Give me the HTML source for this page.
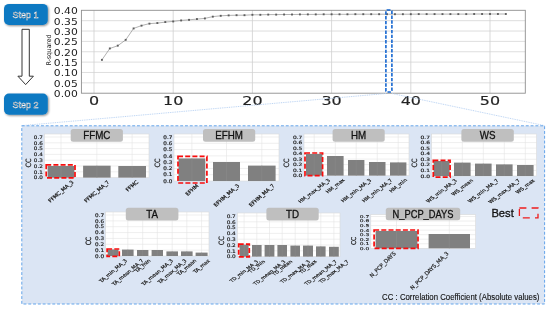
<!DOCTYPE html>
<html><head><meta charset="utf-8"><title>Feature selection steps</title>
<style>
html,body{margin:0;padding:0;background:#fff;}
body{width:550px;height:309px;overflow:hidden;}
svg{display:block;}
.dj{font-family:"DejaVu Sans","Liberation Sans",sans-serif;fill:#222;}
.lb{font-family:"Liberation Sans","DejaVu Sans",sans-serif;fill:#111;}
</style></head><body>
<svg width="550" height="309" viewBox="0 0 550 309">
<rect width="550" height="309" fill="#fff"/>
<rect x="81.4" y="10.3" width="443.9" height="82.9" fill="#fff"/>
<line x1="81.4" x2="525.3" y1="82.84" y2="82.84" stroke="#d6d6d6" stroke-width="0.8"/>
<line x1="81.4" x2="525.3" y1="72.48" y2="72.48" stroke="#d6d6d6" stroke-width="0.8"/>
<line x1="81.4" x2="525.3" y1="62.12" y2="62.12" stroke="#d6d6d6" stroke-width="0.8"/>
<line x1="81.4" x2="525.3" y1="51.76" y2="51.76" stroke="#d6d6d6" stroke-width="0.8"/>
<line x1="81.4" x2="525.3" y1="41.40" y2="41.40" stroke="#d6d6d6" stroke-width="0.8"/>
<line x1="81.4" x2="525.3" y1="31.04" y2="31.04" stroke="#d6d6d6" stroke-width="0.8"/>
<line x1="81.4" x2="525.3" y1="20.68" y2="20.68" stroke="#d6d6d6" stroke-width="0.8"/>
<line x1="94.00" x2="94.00" y1="10.3" y2="93.2" stroke="#cfcfcf" stroke-width="0.8"/>
<line x1="173.20" x2="173.20" y1="10.3" y2="93.2" stroke="#cfcfcf" stroke-width="0.8"/>
<line x1="252.40" x2="252.40" y1="10.3" y2="93.2" stroke="#cfcfcf" stroke-width="0.8"/>
<line x1="331.60" x2="331.60" y1="10.3" y2="93.2" stroke="#cfcfcf" stroke-width="0.8"/>
<line x1="410.80" x2="410.80" y1="10.3" y2="93.2" stroke="#cfcfcf" stroke-width="0.8"/>
<line x1="490.00" x2="490.00" y1="10.3" y2="93.2" stroke="#cfcfcf" stroke-width="0.8"/>
<rect x="81.4" y="10.3" width="443.9" height="82.9" fill="none" stroke="#8e8e8e" stroke-width="0.9"/>
<polyline fill="none" stroke="#7d7d7d" stroke-width="0.6" points="101.9,59.9 109.8,48.5 117.8,45.7 125.7,39.9 133.6,28.4 141.5,25.6 149.4,23.6 157.4,23.1 165.3,22.1 173.2,21.4 181.1,20.4 189.0,19.8 197.0,19.1 204.9,18.4 212.8,16.6 220.7,15.8 228.6,15.4 236.6,15.2 244.5,15.2 252.4,14.8 260.3,14.8 268.2,14.6 276.2,14.6 284.1,14.5 292.0,14.5 299.9,14.4 307.8,14.4 315.8,14.4 323.7,14.3 331.6,14.3 339.5,14.3 347.4,14.3 355.4,14.2 363.3,14.2 371.2,14.2 379.1,14.2 387.0,14.2 395.0,14.2 402.9,14.2 410.8,14.2 418.7,14.1 426.6,14.1 434.6,14.1 442.5,14.1 450.4,14.1 458.3,14.1 466.2,14.1 474.2,14.0 482.1,14.0 490.0,14.0 497.9,14.0 505.8,14.0"/>
<rect x="100.97" y="58.90" width="1.9" height="1.9" fill="#5e5e5e"/>
<rect x="108.89" y="47.50" width="1.9" height="1.9" fill="#5e5e5e"/>
<rect x="116.81" y="44.70" width="1.9" height="1.9" fill="#5e5e5e"/>
<rect x="124.73" y="38.90" width="1.9" height="1.9" fill="#5e5e5e"/>
<rect x="132.65" y="27.50" width="1.9" height="1.9" fill="#5e5e5e"/>
<rect x="140.57" y="24.70" width="1.9" height="1.9" fill="#5e5e5e"/>
<rect x="148.49" y="22.70" width="1.9" height="1.9" fill="#5e5e5e"/>
<rect x="156.41" y="22.10" width="1.9" height="1.9" fill="#5e5e5e"/>
<rect x="164.33" y="21.10" width="1.9" height="1.9" fill="#5e5e5e"/>
<rect x="172.25" y="20.50" width="1.9" height="1.9" fill="#5e5e5e"/>
<rect x="180.17" y="19.50" width="1.9" height="1.9" fill="#5e5e5e"/>
<rect x="188.09" y="18.90" width="1.9" height="1.9" fill="#5e5e5e"/>
<rect x="196.01" y="18.10" width="1.9" height="1.9" fill="#5e5e5e"/>
<rect x="203.93" y="17.50" width="1.9" height="1.9" fill="#5e5e5e"/>
<rect x="211.85" y="15.70" width="1.9" height="1.9" fill="#5e5e5e"/>
<rect x="219.77" y="14.85" width="1.9" height="1.9" fill="#5e5e5e"/>
<rect x="227.69" y="14.45" width="1.9" height="1.9" fill="#5e5e5e"/>
<rect x="235.61" y="14.25" width="1.9" height="1.9" fill="#5e5e5e"/>
<rect x="243.53" y="14.25" width="1.9" height="1.9" fill="#5e5e5e"/>
<rect x="251.45" y="13.85" width="1.9" height="1.9" fill="#5e5e5e"/>
<rect x="259.37" y="13.85" width="1.9" height="1.9" fill="#5e5e5e"/>
<rect x="267.29" y="13.65" width="1.9" height="1.9" fill="#5e5e5e"/>
<rect x="275.21" y="13.65" width="1.9" height="1.9" fill="#5e5e5e"/>
<rect x="283.13" y="13.55" width="1.9" height="1.9" fill="#5e5e5e"/>
<rect x="291.05" y="13.55" width="1.9" height="1.9" fill="#5e5e5e"/>
<rect x="298.97" y="13.45" width="1.9" height="1.9" fill="#5e5e5e"/>
<rect x="306.89" y="13.45" width="1.9" height="1.9" fill="#5e5e5e"/>
<rect x="314.81" y="13.45" width="1.9" height="1.9" fill="#5e5e5e"/>
<rect x="322.73" y="13.35" width="1.9" height="1.9" fill="#5e5e5e"/>
<rect x="330.65" y="13.35" width="1.9" height="1.9" fill="#5e5e5e"/>
<rect x="338.57" y="13.35" width="1.9" height="1.9" fill="#5e5e5e"/>
<rect x="346.49" y="13.35" width="1.9" height="1.9" fill="#5e5e5e"/>
<rect x="354.41" y="13.25" width="1.9" height="1.9" fill="#5e5e5e"/>
<rect x="362.33" y="13.25" width="1.9" height="1.9" fill="#5e5e5e"/>
<rect x="370.25" y="13.25" width="1.9" height="1.9" fill="#5e5e5e"/>
<rect x="378.17" y="13.25" width="1.9" height="1.9" fill="#5e5e5e"/>
<rect x="386.09" y="13.25" width="1.9" height="1.9" fill="#5e5e5e"/>
<rect x="394.01" y="13.25" width="1.9" height="1.9" fill="#5e5e5e"/>
<rect x="401.93" y="13.25" width="1.9" height="1.9" fill="#5e5e5e"/>
<rect x="409.85" y="13.25" width="1.9" height="1.9" fill="#5e5e5e"/>
<rect x="417.77" y="13.15" width="1.9" height="1.9" fill="#5e5e5e"/>
<rect x="425.69" y="13.15" width="1.9" height="1.9" fill="#5e5e5e"/>
<rect x="433.61" y="13.15" width="1.9" height="1.9" fill="#5e5e5e"/>
<rect x="441.53" y="13.15" width="1.9" height="1.9" fill="#5e5e5e"/>
<rect x="449.45" y="13.15" width="1.9" height="1.9" fill="#5e5e5e"/>
<rect x="457.37" y="13.15" width="1.9" height="1.9" fill="#5e5e5e"/>
<rect x="465.29" y="13.15" width="1.9" height="1.9" fill="#5e5e5e"/>
<rect x="473.21" y="13.05" width="1.9" height="1.9" fill="#5e5e5e"/>
<rect x="481.13" y="13.05" width="1.9" height="1.9" fill="#5e5e5e"/>
<rect x="489.05" y="13.05" width="1.9" height="1.9" fill="#5e5e5e"/>
<rect x="496.97" y="13.05" width="1.9" height="1.9" fill="#5e5e5e"/>
<rect x="504.89" y="13.05" width="1.9" height="1.9" fill="#5e5e5e"/>
<text transform="translate(77.8,97.10) scale(1.27,1)" text-anchor="end" class="dj" font-size="8.5">0.00</text>
<text transform="translate(77.8,86.74) scale(1.27,1)" text-anchor="end" class="dj" font-size="8.5">0.05</text>
<text transform="translate(77.8,76.38) scale(1.27,1)" text-anchor="end" class="dj" font-size="8.5">0.10</text>
<text transform="translate(77.8,66.02) scale(1.27,1)" text-anchor="end" class="dj" font-size="8.5">0.15</text>
<text transform="translate(77.8,55.66) scale(1.27,1)" text-anchor="end" class="dj" font-size="8.5">0.20</text>
<text transform="translate(77.8,45.30) scale(1.27,1)" text-anchor="end" class="dj" font-size="8.5">0.25</text>
<text transform="translate(77.8,34.94) scale(1.27,1)" text-anchor="end" class="dj" font-size="8.5">0.30</text>
<text transform="translate(77.8,24.58) scale(1.27,1)" text-anchor="end" class="dj" font-size="8.5">0.35</text>
<text transform="translate(77.8,14.22) scale(1.27,1)" text-anchor="end" class="dj" font-size="8.5">0.40</text>
<text transform="translate(94.0,105.1) scale(1.4,1)" text-anchor="middle" class="dj" font-size="11.4" stroke="#222" stroke-width="0.15">0</text>
<text transform="translate(173.2,105.1) scale(1.4,1)" text-anchor="middle" class="dj" font-size="11.4" stroke="#222" stroke-width="0.15">10</text>
<text transform="translate(252.4,105.1) scale(1.4,1)" text-anchor="middle" class="dj" font-size="11.4" stroke="#222" stroke-width="0.15">20</text>
<text transform="translate(331.6,105.1) scale(1.4,1)" text-anchor="middle" class="dj" font-size="11.4" stroke="#222" stroke-width="0.15">30</text>
<text transform="translate(410.8,105.1) scale(1.4,1)" text-anchor="middle" class="dj" font-size="11.4" stroke="#222" stroke-width="0.15">40</text>
<text transform="translate(490.0,105.1) scale(1.4,1)" text-anchor="middle" class="dj" font-size="11.4" stroke="#222" stroke-width="0.15">50</text>
<text transform="translate(50.6,50) scale(1.1,1) rotate(-90)" text-anchor="middle" class="dj" font-size="6.05">R-squared</text>
<rect x="385.9" y="10" width="6.0" height="82" rx="1.2" fill="none" stroke="#1466d0" stroke-width="1.6" stroke-dasharray="3.4,1.4"/>
<line x1="386" y1="93.5" x2="22" y2="125.6" stroke="#b4cff2" stroke-width="0.9" stroke-dasharray="1,0.8"/>
<line x1="392" y1="93.5" x2="544.5" y2="125.6" stroke="#b4cff2" stroke-width="0.9" stroke-dasharray="1,0.8"/>
<rect x="21.8" y="125.8" width="522.8" height="178.2" fill="#dbe5f4" stroke="#559ce9" stroke-width="0.9" stroke-dasharray="2.9,1.9"/>
<rect x="44.4" y="134" width="104.6" height="43.6" fill="#fff"/>
<line x1="44.4" x2="149" y1="171.80" y2="171.80" stroke="#e4e4e4" stroke-width="0.6"/>
<line x1="44.4" x2="149" y1="166.00" y2="166.00" stroke="#e4e4e4" stroke-width="0.6"/>
<line x1="44.4" x2="149" y1="160.20" y2="160.20" stroke="#e4e4e4" stroke-width="0.6"/>
<line x1="44.4" x2="149" y1="154.40" y2="154.40" stroke="#e4e4e4" stroke-width="0.6"/>
<line x1="44.4" x2="149" y1="148.60" y2="148.60" stroke="#e4e4e4" stroke-width="0.6"/>
<line x1="44.4" x2="149" y1="142.80" y2="142.80" stroke="#e4e4e4" stroke-width="0.6"/>
<line x1="44.4" x2="149" y1="137.00" y2="137.00" stroke="#e4e4e4" stroke-width="0.6"/>
<line x1="61.00" x2="61.00" y1="134" y2="177.6" stroke="#e4e4e4" stroke-width="0.6"/>
<line x1="96.85" x2="96.85" y1="134" y2="177.6" stroke="#e4e4e4" stroke-width="0.6"/>
<line x1="132.15" x2="132.15" y1="134" y2="177.6" stroke="#e4e4e4" stroke-width="0.6"/>
<rect x="44.4" y="134" width="104.6" height="43.6" fill="none" stroke="#d9d9d9" stroke-width="0.6"/>
<rect x="47.6" y="166" width="26.8" height="11.6" fill="#808080"/>
<line x1="61.00" x2="61.00" y1="166" y2="177.6" stroke="#8a8a8a" stroke-width="0.6"/>
<rect x="83.1" y="165.7" width="27.5" height="11.9" fill="#808080"/>
<line x1="96.85" x2="96.85" y1="165.7" y2="177.6" stroke="#8a8a8a" stroke-width="0.6"/>
<rect x="118.3" y="166" width="27.7" height="11.6" fill="#808080"/>
<line x1="132.15" x2="132.15" y1="166" y2="177.6" stroke="#8a8a8a" stroke-width="0.6"/>
<text transform="translate(42.8,179.33) scale(1.18,1)" text-anchor="end" class="dj" font-size="4.8" stroke="#222" stroke-width="0.17">0.0</text>
<text transform="translate(42.8,173.53) scale(1.18,1)" text-anchor="end" class="dj" font-size="4.8" stroke="#222" stroke-width="0.17">0.1</text>
<text transform="translate(42.8,167.73) scale(1.18,1)" text-anchor="end" class="dj" font-size="4.8" stroke="#222" stroke-width="0.17">0.2</text>
<text transform="translate(42.8,161.93) scale(1.18,1)" text-anchor="end" class="dj" font-size="4.8" stroke="#222" stroke-width="0.17">0.3</text>
<text transform="translate(42.8,156.13) scale(1.18,1)" text-anchor="end" class="dj" font-size="4.8" stroke="#222" stroke-width="0.17">0.4</text>
<text transform="translate(42.8,150.33) scale(1.18,1)" text-anchor="end" class="dj" font-size="4.8" stroke="#222" stroke-width="0.17">0.5</text>
<text transform="translate(42.8,144.53) scale(1.18,1)" text-anchor="end" class="dj" font-size="4.8" stroke="#222" stroke-width="0.17">0.6</text>
<text transform="translate(42.8,138.73) scale(1.18,1)" text-anchor="end" class="dj" font-size="4.8" stroke="#222" stroke-width="0.17">0.7</text>
<text transform="translate(28.2,163) scale(1.14,1) rotate(-90)" text-anchor="middle" class="dj" font-size="6.4" dy="2.30" stroke="#222" stroke-width="0.2">CC</text>
<text transform="translate(61.00,191.52) scale(1.15,1) rotate(-45)" text-anchor="middle" class="dj" font-size="4.9" dy="1.62" stroke="#222" stroke-width="0.2">FFMC_MA_3</text>
<text transform="translate(96.85,191.52) scale(1.15,1) rotate(-45)" text-anchor="middle" class="dj" font-size="4.9" dy="1.62" stroke="#222" stroke-width="0.2">FFMC_MA_7</text>
<text transform="translate(132.15,186.01) scale(1.15,1) rotate(-45)" text-anchor="middle" class="dj" font-size="4.9" dy="1.62" stroke="#222" stroke-width="0.2">FFMC</text>
<rect x="46.2" y="164.9" width="28.8" height="13.0" fill="none" stroke="#f80c0c" stroke-width="1.7" stroke-dasharray="5,2.2"/>
<rect x="70.7" y="129" width="52.2" height="12.8" rx="2.5" fill="#bfbfbf"/>
<text transform="translate(96.8,139.2) scale(0.96,1)" text-anchor="middle" class="lb" font-size="10.2" stroke="#111" stroke-width="0.28">FFMC</text>
<rect x="174" y="134" width="105.0" height="47.0" fill="#fff"/>
<line x1="174" x2="279" y1="174.71" y2="174.71" stroke="#e4e4e4" stroke-width="0.6"/>
<line x1="174" x2="279" y1="168.43" y2="168.43" stroke="#e4e4e4" stroke-width="0.6"/>
<line x1="174" x2="279" y1="162.14" y2="162.14" stroke="#e4e4e4" stroke-width="0.6"/>
<line x1="174" x2="279" y1="155.86" y2="155.86" stroke="#e4e4e4" stroke-width="0.6"/>
<line x1="174" x2="279" y1="149.57" y2="149.57" stroke="#e4e4e4" stroke-width="0.6"/>
<line x1="174" x2="279" y1="143.29" y2="143.29" stroke="#e4e4e4" stroke-width="0.6"/>
<line x1="174" x2="279" y1="137.00" y2="137.00" stroke="#e4e4e4" stroke-width="0.6"/>
<line x1="191.90" x2="191.90" y1="134" y2="181" stroke="#e4e4e4" stroke-width="0.6"/>
<line x1="226.50" x2="226.50" y1="134" y2="181" stroke="#e4e4e4" stroke-width="0.6"/>
<line x1="261.80" x2="261.80" y1="134" y2="181" stroke="#e4e4e4" stroke-width="0.6"/>
<rect x="174" y="134" width="105.0" height="47.0" fill="none" stroke="#d9d9d9" stroke-width="0.6"/>
<rect x="178.5" y="158.4" width="26.8" height="22.6" fill="#808080"/>
<line x1="191.90" x2="191.90" y1="158.4" y2="181" stroke="#8a8a8a" stroke-width="0.6"/>
<rect x="213" y="162" width="27.0" height="19.0" fill="#808080"/>
<line x1="226.50" x2="226.50" y1="162" y2="181" stroke="#8a8a8a" stroke-width="0.6"/>
<rect x="248" y="165.6" width="27.6" height="15.4" fill="#808080"/>
<line x1="261.80" x2="261.80" y1="165.6" y2="181" stroke="#8a8a8a" stroke-width="0.6"/>
<text transform="translate(172.4,182.76) scale(1.16,1)" text-anchor="end" class="dj" font-size="4.9" stroke="#222" stroke-width="0.18">0.0</text>
<text transform="translate(172.4,176.48) scale(1.16,1)" text-anchor="end" class="dj" font-size="4.9" stroke="#222" stroke-width="0.18">0.1</text>
<text transform="translate(172.4,170.19) scale(1.16,1)" text-anchor="end" class="dj" font-size="4.9" stroke="#222" stroke-width="0.18">0.2</text>
<text transform="translate(172.4,163.91) scale(1.16,1)" text-anchor="end" class="dj" font-size="4.9" stroke="#222" stroke-width="0.18">0.3</text>
<text transform="translate(172.4,157.62) scale(1.16,1)" text-anchor="end" class="dj" font-size="4.9" stroke="#222" stroke-width="0.18">0.4</text>
<text transform="translate(172.4,151.34) scale(1.16,1)" text-anchor="end" class="dj" font-size="4.9" stroke="#222" stroke-width="0.18">0.5</text>
<text transform="translate(172.4,145.05) scale(1.16,1)" text-anchor="end" class="dj" font-size="4.9" stroke="#222" stroke-width="0.18">0.6</text>
<text transform="translate(172.4,138.76) scale(1.16,1)" text-anchor="end" class="dj" font-size="4.9" stroke="#222" stroke-width="0.18">0.7</text>
<text transform="translate(157.2,163) scale(1.14,1) rotate(-90)" text-anchor="middle" class="dj" font-size="6.4" dy="2.30" stroke="#222" stroke-width="0.2">CC</text>
<text transform="translate(191.90,189.90) scale(1.14,1) rotate(-45)" text-anchor="middle" class="dj" font-size="4.9" dy="1.62" stroke="#222" stroke-width="0.2">EFHM</text>
<text transform="translate(226.50,195.41) scale(1.14,1) rotate(-45)" text-anchor="middle" class="dj" font-size="4.9" dy="1.62" stroke="#222" stroke-width="0.2">EFHM_MA_3</text>
<text transform="translate(261.80,195.41) scale(1.14,1) rotate(-45)" text-anchor="middle" class="dj" font-size="4.9" dy="1.62" stroke="#222" stroke-width="0.2">EFHM_MA_7</text>
<rect x="178.0" y="156.4" width="28.9" height="26.6" fill="none" stroke="#f80c0c" stroke-width="1.7" stroke-dasharray="5,2.2"/>
<rect x="203" y="129" width="52.2" height="12.8" rx="2.5" fill="#bfbfbf"/>
<text transform="translate(229.1,139.2) scale(0.96,1)" text-anchor="middle" class="lb" font-size="10.2" stroke="#111" stroke-width="0.28">EFHM</text>
<rect x="304" y="134" width="105.0" height="41.6" fill="#fff"/>
<line x1="304" x2="409" y1="170.09" y2="170.09" stroke="#e4e4e4" stroke-width="0.6"/>
<line x1="304" x2="409" y1="164.57" y2="164.57" stroke="#e4e4e4" stroke-width="0.6"/>
<line x1="304" x2="409" y1="159.06" y2="159.06" stroke="#e4e4e4" stroke-width="0.6"/>
<line x1="304" x2="409" y1="153.54" y2="153.54" stroke="#e4e4e4" stroke-width="0.6"/>
<line x1="304" x2="409" y1="148.03" y2="148.03" stroke="#e4e4e4" stroke-width="0.6"/>
<line x1="304" x2="409" y1="142.51" y2="142.51" stroke="#e4e4e4" stroke-width="0.6"/>
<line x1="304" x2="409" y1="137.00" y2="137.00" stroke="#e4e4e4" stroke-width="0.6"/>
<line x1="314.20" x2="314.20" y1="134" y2="175.6" stroke="#e4e4e4" stroke-width="0.6"/>
<line x1="335.30" x2="335.30" y1="134" y2="175.6" stroke="#e4e4e4" stroke-width="0.6"/>
<line x1="356.20" x2="356.20" y1="134" y2="175.6" stroke="#e4e4e4" stroke-width="0.6"/>
<line x1="377.25" x2="377.25" y1="134" y2="175.6" stroke="#e4e4e4" stroke-width="0.6"/>
<line x1="398.20" x2="398.20" y1="134" y2="175.6" stroke="#e4e4e4" stroke-width="0.6"/>
<rect x="304" y="134" width="105.0" height="41.6" fill="none" stroke="#d9d9d9" stroke-width="0.6"/>
<rect x="306" y="154" width="16.4" height="21.6" fill="#808080"/>
<line x1="314.20" x2="314.20" y1="154" y2="175.6" stroke="#8a8a8a" stroke-width="0.6"/>
<rect x="327" y="156" width="16.6" height="19.6" fill="#808080"/>
<line x1="335.30" x2="335.30" y1="156" y2="175.6" stroke="#8a8a8a" stroke-width="0.6"/>
<rect x="348" y="160" width="16.4" height="15.6" fill="#808080"/>
<line x1="356.20" x2="356.20" y1="160" y2="175.6" stroke="#8a8a8a" stroke-width="0.6"/>
<rect x="369" y="162" width="16.5" height="13.6" fill="#808080"/>
<line x1="377.25" x2="377.25" y1="162" y2="175.6" stroke="#8a8a8a" stroke-width="0.6"/>
<rect x="390" y="162.4" width="16.4" height="13.2" fill="#808080"/>
<line x1="398.20" x2="398.20" y1="162.4" y2="175.6" stroke="#8a8a8a" stroke-width="0.6"/>
<text transform="translate(302.4,177.22) scale(1.32,1)" text-anchor="end" class="dj" font-size="4.5" stroke="#222" stroke-width="0.16">0.0</text>
<text transform="translate(302.4,171.71) scale(1.32,1)" text-anchor="end" class="dj" font-size="4.5" stroke="#222" stroke-width="0.16">0.1</text>
<text transform="translate(302.4,166.19) scale(1.32,1)" text-anchor="end" class="dj" font-size="4.5" stroke="#222" stroke-width="0.16">0.2</text>
<text transform="translate(302.4,160.68) scale(1.32,1)" text-anchor="end" class="dj" font-size="4.5" stroke="#222" stroke-width="0.16">0.3</text>
<text transform="translate(302.4,155.16) scale(1.32,1)" text-anchor="end" class="dj" font-size="4.5" stroke="#222" stroke-width="0.16">0.4</text>
<text transform="translate(302.4,149.65) scale(1.32,1)" text-anchor="end" class="dj" font-size="4.5" stroke="#222" stroke-width="0.16">0.5</text>
<text transform="translate(302.4,144.13) scale(1.32,1)" text-anchor="end" class="dj" font-size="4.5" stroke="#222" stroke-width="0.16">0.6</text>
<text transform="translate(302.4,138.62) scale(1.32,1)" text-anchor="end" class="dj" font-size="4.5" stroke="#222" stroke-width="0.16">0.7</text>
<text transform="translate(286.4,163) scale(1.14,1) rotate(-90)" text-anchor="middle" class="dj" font-size="6.4" dy="2.30" stroke="#222" stroke-width="0.2">CC</text>
<text transform="translate(314.20,190.88) scale(1.3,1) rotate(-45)" text-anchor="middle" class="dj" font-size="4.35" dy="1.44" stroke="#222" stroke-width="0.2">HM_max_MA_3</text>
<text transform="translate(335.30,185.99) scale(1.3,1) rotate(-45)" text-anchor="middle" class="dj" font-size="4.35" dy="1.44" stroke="#222" stroke-width="0.2">HM_max</text>
<text transform="translate(356.20,190.43) scale(1.3,1) rotate(-45)" text-anchor="middle" class="dj" font-size="4.35" dy="1.44" stroke="#222" stroke-width="0.2">HM_min_MA_3</text>
<text transform="translate(377.25,190.43) scale(1.3,1) rotate(-45)" text-anchor="middle" class="dj" font-size="4.35" dy="1.44" stroke="#222" stroke-width="0.2">HM_min_MA_7</text>
<text transform="translate(398.20,185.54) scale(1.3,1) rotate(-45)" text-anchor="middle" class="dj" font-size="4.35" dy="1.44" stroke="#222" stroke-width="0.2">HM_min</text>
<rect x="305.0" y="153.0" width="17.6" height="22.7" fill="none" stroke="#f80c0c" stroke-width="1.7" stroke-dasharray="5,2.2"/>
<rect x="332.6" y="129" width="52.1" height="12.8" rx="2.5" fill="#bfbfbf"/>
<text transform="translate(358.6,139.2) scale(0.96,1)" text-anchor="middle" class="lb" font-size="10.2" stroke="#111" stroke-width="0.28">HM</text>
<rect x="431.6" y="134" width="105.0" height="42.0" fill="#fff"/>
<line x1="431.6" x2="536.6" y1="170.43" y2="170.43" stroke="#e4e4e4" stroke-width="0.6"/>
<line x1="431.6" x2="536.6" y1="164.86" y2="164.86" stroke="#e4e4e4" stroke-width="0.6"/>
<line x1="431.6" x2="536.6" y1="159.29" y2="159.29" stroke="#e4e4e4" stroke-width="0.6"/>
<line x1="431.6" x2="536.6" y1="153.71" y2="153.71" stroke="#e4e4e4" stroke-width="0.6"/>
<line x1="431.6" x2="536.6" y1="148.14" y2="148.14" stroke="#e4e4e4" stroke-width="0.6"/>
<line x1="431.6" x2="536.6" y1="142.57" y2="142.57" stroke="#e4e4e4" stroke-width="0.6"/>
<line x1="431.6" x2="536.6" y1="137.00" y2="137.00" stroke="#e4e4e4" stroke-width="0.6"/>
<line x1="441.60" x2="441.60" y1="134" y2="176" stroke="#e4e4e4" stroke-width="0.6"/>
<line x1="462.30" x2="462.30" y1="134" y2="176" stroke="#e4e4e4" stroke-width="0.6"/>
<line x1="483.30" x2="483.30" y1="134" y2="176" stroke="#e4e4e4" stroke-width="0.6"/>
<line x1="504.30" x2="504.30" y1="134" y2="176" stroke="#e4e4e4" stroke-width="0.6"/>
<line x1="525.30" x2="525.30" y1="134" y2="176" stroke="#e4e4e4" stroke-width="0.6"/>
<rect x="431.6" y="134" width="105.0" height="42.0" fill="none" stroke="#d9d9d9" stroke-width="0.6"/>
<rect x="433.6" y="161" width="16.0" height="15.0" fill="#808080"/>
<line x1="441.60" x2="441.60" y1="161" y2="176" stroke="#8a8a8a" stroke-width="0.6"/>
<rect x="454" y="162.6" width="16.6" height="13.4" fill="#808080"/>
<line x1="462.30" x2="462.30" y1="162.6" y2="176" stroke="#8a8a8a" stroke-width="0.6"/>
<rect x="475" y="163.6" width="16.6" height="12.4" fill="#808080"/>
<line x1="483.30" x2="483.30" y1="163.6" y2="176" stroke="#8a8a8a" stroke-width="0.6"/>
<rect x="496" y="164.4" width="16.6" height="11.6" fill="#808080"/>
<line x1="504.30" x2="504.30" y1="164.4" y2="176" stroke="#8a8a8a" stroke-width="0.6"/>
<rect x="517" y="165" width="16.6" height="11.0" fill="#808080"/>
<line x1="525.30" x2="525.30" y1="165" y2="176" stroke="#8a8a8a" stroke-width="0.6"/>
<text transform="translate(430.0,177.62) scale(1.32,1)" text-anchor="end" class="dj" font-size="4.5" stroke="#222" stroke-width="0.16">0.0</text>
<text transform="translate(430.0,172.05) scale(1.32,1)" text-anchor="end" class="dj" font-size="4.5" stroke="#222" stroke-width="0.16">0.1</text>
<text transform="translate(430.0,166.48) scale(1.32,1)" text-anchor="end" class="dj" font-size="4.5" stroke="#222" stroke-width="0.16">0.2</text>
<text transform="translate(430.0,160.91) scale(1.32,1)" text-anchor="end" class="dj" font-size="4.5" stroke="#222" stroke-width="0.16">0.3</text>
<text transform="translate(430.0,155.33) scale(1.32,1)" text-anchor="end" class="dj" font-size="4.5" stroke="#222" stroke-width="0.16">0.4</text>
<text transform="translate(430.0,149.76) scale(1.32,1)" text-anchor="end" class="dj" font-size="4.5" stroke="#222" stroke-width="0.16">0.5</text>
<text transform="translate(430.0,144.19) scale(1.32,1)" text-anchor="end" class="dj" font-size="4.5" stroke="#222" stroke-width="0.16">0.6</text>
<text transform="translate(430.0,138.62) scale(1.32,1)" text-anchor="end" class="dj" font-size="4.5" stroke="#222" stroke-width="0.16">0.7</text>
<text transform="translate(414.6,163) scale(1.14,1) rotate(-90)" text-anchor="middle" class="dj" font-size="6.4" dy="2.30" stroke="#222" stroke-width="0.2">CC</text>
<text transform="translate(441.60,190.85) scale(1.3,1) rotate(-45)" text-anchor="middle" class="dj" font-size="4.35" dy="1.44" stroke="#222" stroke-width="0.2">WS_min_MA_3</text>
<text transform="translate(462.30,187.41) scale(1.3,1) rotate(-45)" text-anchor="middle" class="dj" font-size="4.35" dy="1.44" stroke="#222" stroke-width="0.2">WS_mean</text>
<text transform="translate(483.30,190.85) scale(1.3,1) rotate(-45)" text-anchor="middle" class="dj" font-size="4.35" dy="1.44" stroke="#222" stroke-width="0.2">WS_min_MA_7</text>
<text transform="translate(504.30,191.30) scale(1.3,1) rotate(-45)" text-anchor="middle" class="dj" font-size="4.35" dy="1.44" stroke="#222" stroke-width="0.2">WS_max_MA_7</text>
<text transform="translate(525.30,186.40) scale(1.3,1) rotate(-45)" text-anchor="middle" class="dj" font-size="4.35" dy="1.44" stroke="#222" stroke-width="0.2">WS_max</text>
<rect x="433.3" y="160.3" width="16.8" height="16.8" fill="none" stroke="#f80c0c" stroke-width="1.7" stroke-dasharray="5,2.2"/>
<rect x="461.4" y="129" width="52.4" height="12.8" rx="2.5" fill="#bfbfbf"/>
<text transform="translate(487.6,139.2) scale(0.96,1)" text-anchor="middle" class="lb" font-size="10.2" stroke="#111" stroke-width="0.28">WS</text>
<rect x="105.6" y="212" width="103.4" height="44.0" fill="#fff"/>
<line x1="105.6" x2="209" y1="250.14" y2="250.14" stroke="#e4e4e4" stroke-width="0.6"/>
<line x1="105.6" x2="209" y1="244.29" y2="244.29" stroke="#e4e4e4" stroke-width="0.6"/>
<line x1="105.6" x2="209" y1="238.43" y2="238.43" stroke="#e4e4e4" stroke-width="0.6"/>
<line x1="105.6" x2="209" y1="232.57" y2="232.57" stroke="#e4e4e4" stroke-width="0.6"/>
<line x1="105.6" x2="209" y1="226.71" y2="226.71" stroke="#e4e4e4" stroke-width="0.6"/>
<line x1="105.6" x2="209" y1="220.86" y2="220.86" stroke="#e4e4e4" stroke-width="0.6"/>
<line x1="105.6" x2="209" y1="215.00" y2="215.00" stroke="#e4e4e4" stroke-width="0.6"/>
<line x1="113.10" x2="113.10" y1="212" y2="256.0" stroke="#e4e4e4" stroke-width="0.6"/>
<line x1="127.80" x2="127.80" y1="212" y2="256.0" stroke="#e4e4e4" stroke-width="0.6"/>
<line x1="142.70" x2="142.70" y1="212" y2="256.0" stroke="#e4e4e4" stroke-width="0.6"/>
<line x1="157.30" x2="157.30" y1="212" y2="256.0" stroke="#e4e4e4" stroke-width="0.6"/>
<line x1="172.20" x2="172.20" y1="212" y2="256.0" stroke="#e4e4e4" stroke-width="0.6"/>
<line x1="186.80" x2="186.80" y1="212" y2="256.0" stroke="#e4e4e4" stroke-width="0.6"/>
<line x1="201.60" x2="201.60" y1="212" y2="256.0" stroke="#e4e4e4" stroke-width="0.6"/>
<rect x="105.6" y="212" width="103.4" height="44.0" fill="none" stroke="#d9d9d9" stroke-width="0.6"/>
<rect x="107.7" y="249.5" width="10.8" height="6.5" fill="#808080"/>
<line x1="113.10" x2="113.10" y1="249.5" y2="256.0" stroke="#8a8a8a" stroke-width="0.6"/>
<rect x="122" y="249.6" width="11.6" height="6.4" fill="#808080"/>
<line x1="127.80" x2="127.80" y1="249.6" y2="256.0" stroke="#8a8a8a" stroke-width="0.6"/>
<rect x="137" y="250" width="11.4" height="6.0" fill="#808080"/>
<line x1="142.70" x2="142.70" y1="250" y2="256.0" stroke="#8a8a8a" stroke-width="0.6"/>
<rect x="151.6" y="250" width="11.4" height="6.0" fill="#808080"/>
<line x1="157.30" x2="157.30" y1="250" y2="256.0" stroke="#8a8a8a" stroke-width="0.6"/>
<rect x="166.4" y="251.4" width="11.6" height="4.6" fill="#808080"/>
<line x1="172.20" x2="172.20" y1="251.4" y2="256.0" stroke="#8a8a8a" stroke-width="0.6"/>
<rect x="181" y="251.4" width="11.6" height="4.6" fill="#808080"/>
<line x1="186.80" x2="186.80" y1="251.4" y2="256.0" stroke="#8a8a8a" stroke-width="0.6"/>
<rect x="195.6" y="252.6" width="12.0" height="3.4" fill="#808080"/>
<line x1="201.60" x2="201.60" y1="252.6" y2="256.0" stroke="#8a8a8a" stroke-width="0.6"/>
<text transform="translate(104.0,257.76) scale(1.16,1)" text-anchor="end" class="dj" font-size="4.9" stroke="#222" stroke-width="0.18">0.0</text>
<text transform="translate(104.0,251.91) scale(1.16,1)" text-anchor="end" class="dj" font-size="4.9" stroke="#222" stroke-width="0.18">0.1</text>
<text transform="translate(104.0,246.05) scale(1.16,1)" text-anchor="end" class="dj" font-size="4.9" stroke="#222" stroke-width="0.18">0.2</text>
<text transform="translate(104.0,240.19) scale(1.16,1)" text-anchor="end" class="dj" font-size="4.9" stroke="#222" stroke-width="0.18">0.3</text>
<text transform="translate(104.0,234.34) scale(1.16,1)" text-anchor="end" class="dj" font-size="4.9" stroke="#222" stroke-width="0.18">0.4</text>
<text transform="translate(104.0,228.48) scale(1.16,1)" text-anchor="end" class="dj" font-size="4.9" stroke="#222" stroke-width="0.18">0.5</text>
<text transform="translate(104.0,222.62) scale(1.16,1)" text-anchor="end" class="dj" font-size="4.9" stroke="#222" stroke-width="0.18">0.6</text>
<text transform="translate(104.0,216.76) scale(1.16,1)" text-anchor="end" class="dj" font-size="4.9" stroke="#222" stroke-width="0.18">0.7</text>
<text transform="translate(88.7,241) scale(1.3,1) rotate(-90)" text-anchor="middle" class="dj" font-size="5.6" dy="2.02" stroke="#222" stroke-width="0.2">CC</text>
<text transform="translate(113.10,270.92) scale(1.18,1) rotate(-45)" text-anchor="middle" class="dj" font-size="4.6" dy="1.52" stroke="#222" stroke-width="0.2">TA_min_MA_3</text>
<text transform="translate(127.80,272.47) scale(1.18,1) rotate(-45)" text-anchor="middle" class="dj" font-size="4.6" dy="1.52" stroke="#222" stroke-width="0.2">TA_mean_MA_7</text>
<text transform="translate(142.70,265.75) scale(1.18,1) rotate(-45)" text-anchor="middle" class="dj" font-size="4.6" dy="1.52" stroke="#222" stroke-width="0.2">TA_min</text>
<text transform="translate(157.30,272.47) scale(1.18,1) rotate(-45)" text-anchor="middle" class="dj" font-size="4.6" dy="1.52" stroke="#222" stroke-width="0.2">TA_mean_MA_3</text>
<text transform="translate(172.20,271.40) scale(1.18,1) rotate(-45)" text-anchor="middle" class="dj" font-size="4.6" dy="1.52" stroke="#222" stroke-width="0.2">TA_max_MA_3</text>
<text transform="translate(186.80,267.29) scale(1.18,1) rotate(-45)" text-anchor="middle" class="dj" font-size="4.6" dy="1.52" stroke="#222" stroke-width="0.2">TA_mean</text>
<text transform="translate(201.60,266.22) scale(1.18,1) rotate(-45)" text-anchor="middle" class="dj" font-size="4.6" dy="1.52" stroke="#222" stroke-width="0.2">TA_max</text>
<rect x="107.1" y="249.0" width="12.2" height="7.4" fill="none" stroke="#f80c0c" stroke-width="1.7" stroke-dasharray="5,2.2"/>
<rect x="125.8" y="207.7" width="52.6" height="12.9" rx="2.5" fill="#bfbfbf"/>
<text transform="translate(152.1,218.0) scale(0.96,1)" text-anchor="middle" class="lb" font-size="10.2" stroke="#111" stroke-width="0.28">TA</text>
<rect x="237.4" y="213" width="102.6" height="43.6" fill="#fff"/>
<line x1="237.4" x2="340" y1="250.80" y2="250.80" stroke="#e4e4e4" stroke-width="0.6"/>
<line x1="237.4" x2="340" y1="245.00" y2="245.00" stroke="#e4e4e4" stroke-width="0.6"/>
<line x1="237.4" x2="340" y1="239.20" y2="239.20" stroke="#e4e4e4" stroke-width="0.6"/>
<line x1="237.4" x2="340" y1="233.40" y2="233.40" stroke="#e4e4e4" stroke-width="0.6"/>
<line x1="237.4" x2="340" y1="227.60" y2="227.60" stroke="#e4e4e4" stroke-width="0.6"/>
<line x1="237.4" x2="340" y1="221.80" y2="221.80" stroke="#e4e4e4" stroke-width="0.6"/>
<line x1="237.4" x2="340" y1="216.00" y2="216.00" stroke="#e4e4e4" stroke-width="0.6"/>
<line x1="244.10" x2="244.10" y1="213" y2="256.6" stroke="#e4e4e4" stroke-width="0.6"/>
<line x1="256.80" x2="256.80" y1="213" y2="256.6" stroke="#e4e4e4" stroke-width="0.6"/>
<line x1="269.50" x2="269.50" y1="213" y2="256.6" stroke="#e4e4e4" stroke-width="0.6"/>
<line x1="282.20" x2="282.20" y1="213" y2="256.6" stroke="#e4e4e4" stroke-width="0.6"/>
<line x1="295.20" x2="295.20" y1="213" y2="256.6" stroke="#e4e4e4" stroke-width="0.6"/>
<line x1="308.00" x2="308.00" y1="213" y2="256.6" stroke="#e4e4e4" stroke-width="0.6"/>
<line x1="320.80" x2="320.80" y1="213" y2="256.6" stroke="#e4e4e4" stroke-width="0.6"/>
<line x1="333.90" x2="333.90" y1="213" y2="256.6" stroke="#e4e4e4" stroke-width="0.6"/>
<rect x="237.4" y="213" width="102.6" height="43.6" fill="none" stroke="#d9d9d9" stroke-width="0.6"/>
<rect x="239.6" y="244.7" width="9.0" height="11.9" fill="#808080"/>
<line x1="244.10" x2="244.10" y1="244.7" y2="256.6" stroke="#8a8a8a" stroke-width="0.6"/>
<rect x="252" y="245" width="9.6" height="11.6" fill="#808080"/>
<line x1="256.80" x2="256.80" y1="245" y2="256.6" stroke="#8a8a8a" stroke-width="0.6"/>
<rect x="264.6" y="245" width="9.8" height="11.6" fill="#808080"/>
<line x1="269.50" x2="269.50" y1="245" y2="256.6" stroke="#8a8a8a" stroke-width="0.6"/>
<rect x="277.4" y="245" width="9.6" height="11.6" fill="#808080"/>
<line x1="282.20" x2="282.20" y1="245" y2="256.6" stroke="#8a8a8a" stroke-width="0.6"/>
<rect x="290.4" y="245.6" width="9.6" height="11.0" fill="#808080"/>
<line x1="295.20" x2="295.20" y1="245.6" y2="256.6" stroke="#8a8a8a" stroke-width="0.6"/>
<rect x="303" y="245.6" width="10.0" height="11.0" fill="#808080"/>
<line x1="308.00" x2="308.00" y1="245.6" y2="256.6" stroke="#8a8a8a" stroke-width="0.6"/>
<rect x="316" y="246.4" width="9.6" height="10.2" fill="#808080"/>
<line x1="320.80" x2="320.80" y1="246.4" y2="256.6" stroke="#8a8a8a" stroke-width="0.6"/>
<rect x="329" y="246.8" width="9.8" height="9.8" fill="#808080"/>
<line x1="333.90" x2="333.90" y1="246.8" y2="256.6" stroke="#8a8a8a" stroke-width="0.6"/>
<text transform="translate(235.8,258.33) scale(1.2,1)" text-anchor="end" class="dj" font-size="4.8" stroke="#222" stroke-width="0.17">0.0</text>
<text transform="translate(235.8,252.53) scale(1.2,1)" text-anchor="end" class="dj" font-size="4.8" stroke="#222" stroke-width="0.17">0.1</text>
<text transform="translate(235.8,246.73) scale(1.2,1)" text-anchor="end" class="dj" font-size="4.8" stroke="#222" stroke-width="0.17">0.2</text>
<text transform="translate(235.8,240.93) scale(1.2,1)" text-anchor="end" class="dj" font-size="4.8" stroke="#222" stroke-width="0.17">0.3</text>
<text transform="translate(235.8,235.13) scale(1.2,1)" text-anchor="end" class="dj" font-size="4.8" stroke="#222" stroke-width="0.17">0.4</text>
<text transform="translate(235.8,229.33) scale(1.2,1)" text-anchor="end" class="dj" font-size="4.8" stroke="#222" stroke-width="0.17">0.5</text>
<text transform="translate(235.8,223.53) scale(1.2,1)" text-anchor="end" class="dj" font-size="4.8" stroke="#222" stroke-width="0.17">0.6</text>
<text transform="translate(235.8,217.73) scale(1.2,1)" text-anchor="end" class="dj" font-size="4.8" stroke="#222" stroke-width="0.17">0.7</text>
<text transform="translate(221.3,240.8) scale(1.14,1) rotate(-90)" text-anchor="middle" class="dj" font-size="6.4" dy="2.30" stroke="#222" stroke-width="0.2">CC</text>
<text transform="translate(244.10,271.29) scale(1.29,1) rotate(-45)" text-anchor="middle" class="dj" font-size="4.25" dy="1.40" stroke="#222" stroke-width="0.2">TD_min_MA_3</text>
<text transform="translate(256.80,266.50) scale(1.29,1) rotate(-45)" text-anchor="middle" class="dj" font-size="4.25" dy="1.40" stroke="#222" stroke-width="0.2">TD_min</text>
<text transform="translate(269.50,272.71) scale(1.29,1) rotate(-45)" text-anchor="middle" class="dj" font-size="4.25" dy="1.40" stroke="#222" stroke-width="0.2">TD_mean_MA_3</text>
<text transform="translate(282.20,267.93) scale(1.29,1) rotate(-45)" text-anchor="middle" class="dj" font-size="4.25" dy="1.40" stroke="#222" stroke-width="0.2">TD_mean</text>
<text transform="translate(295.20,271.73) scale(1.29,1) rotate(-45)" text-anchor="middle" class="dj" font-size="4.25" dy="1.40" stroke="#222" stroke-width="0.2">TD_max_MA_3</text>
<text transform="translate(308.00,266.94) scale(1.29,1) rotate(-45)" text-anchor="middle" class="dj" font-size="4.25" dy="1.40" stroke="#222" stroke-width="0.2">TD_max</text>
<text transform="translate(320.80,272.71) scale(1.29,1) rotate(-45)" text-anchor="middle" class="dj" font-size="4.25" dy="1.40" stroke="#222" stroke-width="0.2">TD_mean_MA_7</text>
<text transform="translate(333.90,271.73) scale(1.29,1) rotate(-45)" text-anchor="middle" class="dj" font-size="4.25" dy="1.40" stroke="#222" stroke-width="0.2">TD_max_MA_7</text>
<rect x="238.7" y="244.2" width="10.6" height="12.7" fill="none" stroke="#f80c0c" stroke-width="1.7" stroke-dasharray="5,2.2"/>
<rect x="266.4" y="207.7" width="52.3" height="12.9" rx="2.5" fill="#bfbfbf"/>
<text transform="translate(292.5,218.0) scale(0.96,1)" text-anchor="middle" class="lb" font-size="10.2" stroke="#111" stroke-width="0.28">TD</text>
<rect x="370.8" y="214.6" width="104.8" height="33.7" fill="#fff"/>
<line x1="370.8" x2="475.6" y1="243.76" y2="243.76" stroke="#e4e4e4" stroke-width="0.6"/>
<line x1="370.8" x2="475.6" y1="239.21" y2="239.21" stroke="#e4e4e4" stroke-width="0.6"/>
<line x1="370.8" x2="475.6" y1="234.67" y2="234.67" stroke="#e4e4e4" stroke-width="0.6"/>
<line x1="370.8" x2="475.6" y1="230.13" y2="230.13" stroke="#e4e4e4" stroke-width="0.6"/>
<line x1="370.8" x2="475.6" y1="225.59" y2="225.59" stroke="#e4e4e4" stroke-width="0.6"/>
<line x1="370.8" x2="475.6" y1="221.04" y2="221.04" stroke="#e4e4e4" stroke-width="0.6"/>
<line x1="370.8" x2="475.6" y1="216.50" y2="216.50" stroke="#e4e4e4" stroke-width="0.6"/>
<line x1="396.50" x2="396.50" y1="214.6" y2="248.3" stroke="#e4e4e4" stroke-width="0.6"/>
<line x1="449.30" x2="449.30" y1="214.6" y2="248.3" stroke="#e4e4e4" stroke-width="0.6"/>
<rect x="370.8" y="214.6" width="104.8" height="33.7" fill="none" stroke="#d9d9d9" stroke-width="0.6"/>
<rect x="375.6" y="231" width="41.8" height="17.3" fill="#808080"/>
<line x1="396.50" x2="396.50" y1="231" y2="248.3" stroke="#8a8a8a" stroke-width="0.6"/>
<rect x="428.6" y="234" width="41.4" height="14.3" fill="#808080"/>
<line x1="449.30" x2="449.30" y1="234" y2="248.3" stroke="#8a8a8a" stroke-width="0.6"/>
<text transform="translate(369.2,249.74) scale(1.5,1)" text-anchor="end" class="dj" font-size="4.0" stroke="#222" stroke-width="0.14">0.0</text>
<text transform="translate(369.2,245.20) scale(1.5,1)" text-anchor="end" class="dj" font-size="4.0" stroke="#222" stroke-width="0.14">0.1</text>
<text transform="translate(369.2,240.65) scale(1.5,1)" text-anchor="end" class="dj" font-size="4.0" stroke="#222" stroke-width="0.14">0.2</text>
<text transform="translate(369.2,236.11) scale(1.5,1)" text-anchor="end" class="dj" font-size="4.0" stroke="#222" stroke-width="0.14">0.3</text>
<text transform="translate(369.2,231.57) scale(1.5,1)" text-anchor="end" class="dj" font-size="4.0" stroke="#222" stroke-width="0.14">0.4</text>
<text transform="translate(369.2,227.03) scale(1.5,1)" text-anchor="end" class="dj" font-size="4.0" stroke="#222" stroke-width="0.14">0.5</text>
<text transform="translate(369.2,222.48) scale(1.5,1)" text-anchor="end" class="dj" font-size="4.0" stroke="#222" stroke-width="0.14">0.6</text>
<text transform="translate(369.2,217.94) scale(1.5,1)" text-anchor="end" class="dj" font-size="4.0" stroke="#222" stroke-width="0.14">0.7</text>
<text transform="translate(353.9,240.9) scale(1.1,1) rotate(-90)" text-anchor="middle" class="dj" font-size="6.0" dy="2.16" stroke="#222" stroke-width="0.2">CC</text>
<text transform="translate(382.81,264.59) scale(1.0,1) rotate(-45)" text-anchor="middle" class="dj" font-size="5.45" dy="1.80" stroke="#222" stroke-width="0.2">N_PCP_DAYS</text>
<text transform="translate(429.48,270.72) scale(1.0,1) rotate(-45)" text-anchor="middle" class="dj" font-size="5.45" dy="1.80" stroke="#222" stroke-width="0.2">N_PCP_DAYS_MA_3</text>
<rect x="374.1" y="230.0" width="43.9" height="18.4" fill="none" stroke="#f80c0c" stroke-width="1.7" stroke-dasharray="5,2.2"/>
<rect x="385.8" y="207.8" width="74.4" height="12.4" rx="2.5" fill="#bfbfbf"/>
<text transform="translate(423.0,217.6) scale(0.915,1)" text-anchor="middle" class="lb" font-size="10.2" stroke="#111" stroke-width="0.28">N_PCP_DAYS</text>
<text x="491.4" y="216.6" class="lb" font-size="11.2" stroke="#111" stroke-width="0.3">Best</text>
<rect x="519.4" y="208" width="18.6" height="9.8" fill="none" stroke="#ee1c1c" stroke-width="1.3" stroke-dasharray="7,5.2"/>
<text transform="translate(539.4,300) scale(0.935,1)" text-anchor="end" class="lb" font-size="8.35" stroke="#111" stroke-width="0.12">CC : Correlation Coefficient (Absolute values)</text>
<defs><filter id="sh" x="-20%" y="-20%" width="140%" height="160%"><feGaussianBlur in="SourceAlpha" stdDeviation="0.9"/><feOffset dx="0.6" dy="1"/><feComponentTransfer><feFuncA type="linear" slope="0.45"/></feComponentTransfer><feMerge><feMergeNode/><feMergeNode in="SourceGraphic"/></feMerge></filter></defs>
<rect x="4" y="3.9" width="43.8" height="21.1" rx="5" fill="#0f79c2" filter="url(#sh)"/>
<text x="25.6" y="18.3" text-anchor="middle" class="lb" font-size="9" fill="#eef5fc" stroke="#eef5fc" stroke-width="0.45">Step 1</text>
<rect x="4" y="93.6" width="43.8" height="21.1" rx="5" fill="#0f79c2" filter="url(#sh)"/>
<text x="25.6" y="108" text-anchor="middle" class="lb" font-size="9" fill="#eef5fc" stroke="#eef5fc" stroke-width="0.45">Step 2</text>
<path d="M22 29.3 H29.3 V76.2 H33.4 L25.65 84.6 L17.9 76.2 H22 Z" fill="#fff" stroke="#2a2a2a" stroke-width="0.95" stroke-linejoin="miter"/>
</svg>
</body></html>
